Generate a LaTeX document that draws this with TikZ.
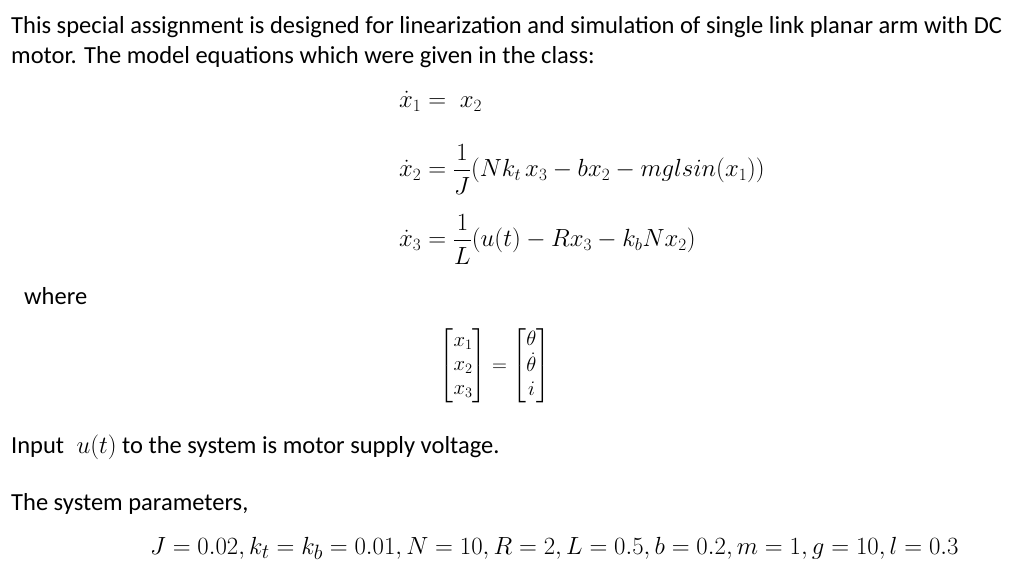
\documentclass[tikz,border=0pt]{standalone}
\usepackage{amsmath}
\usepackage{fontspec}
\setmainfont{Carlito}
\begin{document}
\begin{tikzpicture}[x=1bp,y=-1bp,txt/.style={anchor=base west,inner sep=0pt,font=\fontsize{24.6}{28}\selectfont},eq/.style={anchor=base west,inner sep=0pt,font=\fontsize{25.5}{30}\selectfont}]
\useasboundingbox (0,0) rectangle (1032,568);
\node[txt] (l1) at (11,34) {This special assignment is designed for linearization and simulation of single link planar arm with DC};
\node[txt] (l2) at (11,64) {motor. The model equations which were given in the class:};
\node[eq] (e1) at (399,108) {$\dot x_1 = \;x_2$};
\node[eq] (e2) at (399,177) {$\dot x_2 = \dfrac{1}{J}(Nk_t\,x_3 - bx_2 - mglsin(x_1))$};
\node[eq] (e3) at (399,247) {$\dot x_3 = \dfrac{1}{L}(u(t) - Rx_3 - k_bNx_2)$};
\node[txt] (w) at (24,305) {where};
\node[anchor=center,inner sep=0pt,font=\fontsize{20.5}{24}\selectfont] (m) at (495,366) {$\begin{bmatrix}x_1\\x_2\\x_3\end{bmatrix}=\begin{bmatrix}\theta\\\dot\theta\\i\end{bmatrix}$};
\node[txt] (in) at (11,453) {Input \;$u(t)$ to the system is motor supply voltage.};
\node[txt] (sp) at (11,510) {The system parameters,};
\node[eq,font=\fontsize{28}{32}\selectfont] (pr) at (150,554) {$J=0.02,k_t=k_b=0.01,N=10,R=2,L=0.5,b=0.2,m=1,g=10,l=0.3$};
\end{tikzpicture}
\end{document}
